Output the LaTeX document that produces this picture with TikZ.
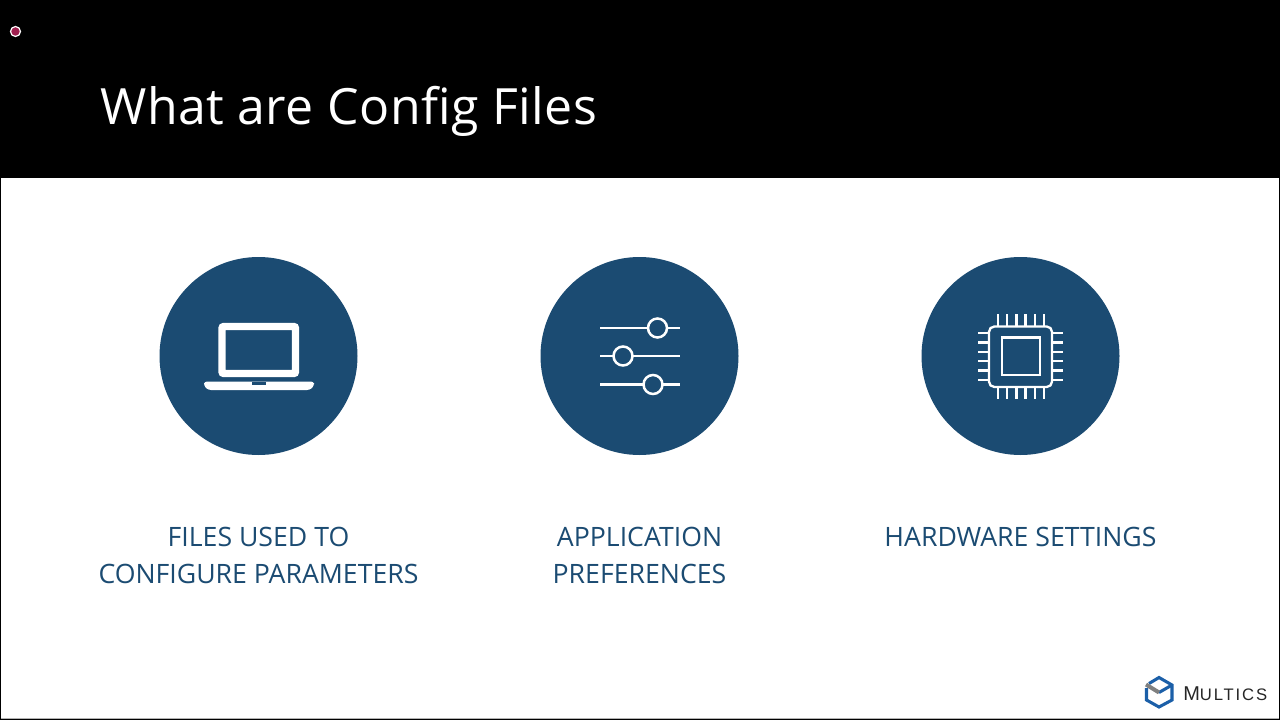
\documentclass[tikz,border=0pt]{standalone}
\usepackage{fontspec}
\setmainfont{Open Sans}
\newfontfamily\logofont[LetterSpace=11]{Liberation Sans}
\definecolor{slideblue}{HTML}{1B4B72}
\definecolor{logoblue}{HTML}{1B5FA8}
\definecolor{dotred}{HTML}{A02050}
\begin{document}
\begin{tikzpicture}[x=0.75pt,y=-0.75pt,
	disc/.style={circle,fill=slideblue,minimum size=148.5pt,inner sep=0pt},
	caption/.style={text=slideblue,align=center,font=\fontsize{20}{27.75}\selectfont},
	icon/.style={draw=white,line width=1.9pt},
	thinicon/.style={draw=white,line width=1.75pt}]
	\useasboundingbox (0,0) rectangle (1280,720);
	
	% hatter
	\fill[black] (0,0) rectangle (1280,720);
	\fill[white] (1,178) rectangle (1279,718);
	\fill[gray!60] (1,718) rectangle (1279,719);
	
	% felso sav
	\node[draw=white,fill=dotred,circle,line width=0.9pt,minimum size=7.5pt,inner sep=0pt] (dot) at (15.5,31.5) {};
	\node[anchor=west,text=white,inner sep=0pt,font=\fontsize{37.5}{40}\selectfont\addfontfeature{LetterSpace=1}] (title) at (100,111) {What are Config Files};
	
	% korok
	\node[disc] (laptop) at (258.5,356) {};
	\node[disc] (sliders) at (639.5,356) {};
	\node[disc] (chip) at (1020.5,356) {};
	
	% feliratok
	\node[caption] (laptoptext) at (258.5,555) {FILES USED TO\\CONFIGURE PARAMETERS};
	\node[caption] (sliderstext) at (639.5,555) {APPLICATION\\PREFERENCES};
	\node[caption,anchor=center] (chiptext) at (1020.5,536.5) {HARDWARE SETTINGS};
	
	% laptop
	\draw[icon,line width=5.6pt,rounded corners=1.5pt] (222,326.5) rectangle (295.5,373.5);
	\fill[white,rounded corners=2.2pt] (204,381.5) -- (314,381.5) -- (314,386) -- (310,390) -- (208,390) -- (204,386) -- cycle;
	\fill[slideblue] (252,381.5) rectangle (266,384.5);
	
	% csuszkak
	\foreach \y/\k in {328/657.5,356/623,384.5/653}{
		\draw[icon] (600,\y) -- (680,\y);
		\draw[icon,fill=slideblue] (\k,\y) circle (9.5);
	}
	
	% chip
	\draw[thinicon,rounded corners=4pt] (989,326.5) rectangle (1052,387);
	\draw[thinicon] (1002,337.5) rectangle (1040,375);
	\foreach \x in {998,1007.2,1016.4,1025.6,1034.8,1044}{
		\draw[thinicon] (\x,314) -- (\x,326.5);
		\draw[thinicon] (\x,387) -- (\x,399);
	}
	\foreach \y in {333,342.4,351.8,361.2,370.6,380}{
		\draw[thinicon] (978,\y) -- (989,\y);
		\draw[thinicon] (1052,\y) -- (1063,\y);
	}
	
	% logo
	\draw[logoblue,line width=2.3pt,line join=miter] (1146.5,688) -- (1146.5,700) -- (1159,707) -- (1172,700) -- (1172,685) -- (1159,677.5) -- (1149,683.5);
	\draw[logoblue,line width=2.3pt] (1159,692.5) -- (1172,685);
	\draw[gray,line width=3pt] (1146,684.5) -- (1159,692.5);
	\node[anchor=base west,inner sep=0pt,text=black!85] (logotext) at (1183,700.5) {\logofont\fontsize{15}{15}\selectfont M\fontsize{12.5}{15}\selectfont ULTICS};
\end{tikzpicture}
\end{document}
